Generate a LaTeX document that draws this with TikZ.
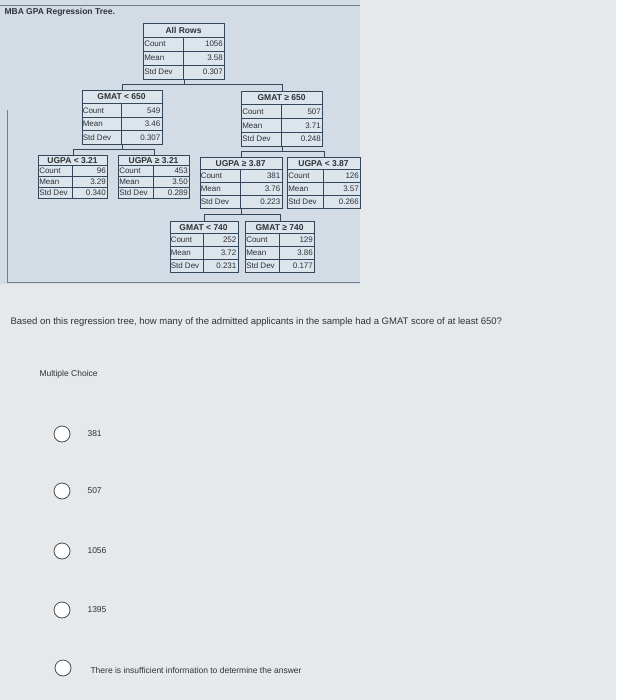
\documentclass[tikz,border=0pt]{standalone}
\usepackage{fontspec}
\setmainfont{Liberation Sans}
\definecolor{bg}{HTML}{E6E9EC}
\definecolor{panel}{HTML}{D3DCE5}
\definecolor{boxf}{HTML}{DCE4EC}
\definecolor{edge}{HTML}{34465A}
\definecolor{txt}{HTML}{2E3338}
\newcommand\tbox[9]{%
 \node[draw=edge,line width=0.9pt,fill=boxf,minimum width=#4pt,minimum height=#5pt,anchor=north,inner sep=0pt] (#1) at (#2,#3) {};
 \begin{scope}[shift={(#1.north west)}]
  \draw[edge,line width=0.7pt] (0,{#5/4})--(#4,{#5/4}) (0,{#5/2})--(#4,{#5/2}) (0,{3*#5/4})--(#4,{3*#5/4})
   ({#4/2},{#5/4})--({#4/2},#5);
  \node[font=\bfseries\fontsize{8.5}{9}\selectfont,inner sep=0pt] at ({#4/2},{#5/8}) {#6};
  \node[anchor=west,lbl] at (1,{3*#5/8}) {Count};
  \node[anchor=west,lbl] at (1,{5*#5/8}) {Mean};
  \node[anchor=west,lbl] at (1,{7*#5/8}) {Std Dev};
  \node[anchor=east,lbl] at ({#4-1},{3*#5/8}) {#7};
  \node[anchor=east,lbl] at ({#4-1},{5*#5/8}) {#8};
  \node[anchor=east,lbl] at ({#4-1},{7*#5/8}) {#9};
 \end{scope}}
\begin{document}
\begin{tikzpicture}[x=1pt,y=-1pt,every node/.style={text=txt},
  lbl/.style={font=\fontsize{8}{9}\selectfont,inner sep=0pt},
  conn/.style={draw=edge,line width=1pt},
  radio/.style={circle,draw=black!70,line width=0.8pt,minimum size=16pt,inner sep=0pt,fill=white}]
\useasboundingbox (0,0) rectangle (616,700);
\fill[bg] (0,0) rectangle (616,700);
\fill[panel] (0,0) rectangle (360,284);
\draw[edge!70,line width=0.8pt] (0,5)--(360,5) (7,110)--(7,282)--(360,282);
\node[anchor=west,font=\bfseries\fontsize{8.5}{9}\selectfont] (title) at (1,12) {MBA GPA Regression Tree.};
\tbox{all}{184}{23}{81}{56}{All Rows}{1056}{3.58}{0.307}
\tbox{g1}{122}{90}{80}{54}{GMAT < 650}{549}{3.46}{0.307}
\tbox{g2}{282}{91}{81}{55}{GMAT ≥ 650}{507}{3.71}{0.248}
\tbox{u1}{73}{155}{69}{43}{UGPA < 3.21}{96}{3.29}{0.340}
\tbox{u2}{154}{155}{71}{43}{UGPA ≥ 3.21}{453}{3.50}{0.289}
\tbox{u3}{241}{157}{82}{51}{UGPA ≥ 3.87}{381}{3.76}{0.223}
\tbox{u4}{324}{157}{73}{51}{UGPA < 3.87}{126}{3.57}{0.266}
\tbox{m1}{204}{221}{68}{51}{GMAT < 740}{252}{3.72}{0.231}
\tbox{m2}{280}{221}{69}{51}{GMAT ≥ 740}{129}{3.86}{0.177}
\draw[conn] (all.south) -- ++(0,5) -| (g1.north);
\draw[conn] (all.south) -- ++(0,5) -| (g2.north);
\draw[conn] (g1.south) -- ++(0,5) -| (u1.north);
\draw[conn] (g1.south) -- ++(0,5) -| (u2.north);
\draw[conn] (g2.south) -- ++(0,5) -| (u3.north);
\draw[conn] (g2.south) -- ++(0,5) -| (u4.north);
\draw[conn] (u3.south) -- ++(0,6) -| (m1.north);
\draw[conn] (u3.south) -- ++(0,6) -| (m2.north);
\node[anchor=west,font=\fontsize{9.5}{11}\selectfont] (q) at (7,322) {Based on this regression tree, how many of the admitted applicants in the sample had a GMAT score of at least 650?};
\node[anchor=west,font=\fontsize{8.5}{9}\selectfont] (mc) at (36,374) {Multiple Choice};
\foreach \y/\t/\n in {434/381/a,491/507/b,551/1056/c,610/1395/d}{
  \node[radio] (r\n) at (62,\y) {};
  \node[anchor=west,font=\fontsize{8.5}{9}\selectfont] (t\n) at (84,\y) {\t};}
\node[radio] (re) at (63,668) {};
\node[anchor=west,font=\fontsize{8.5}{9}\selectfont] (te) at (87,670) {There is insufficient information to determine the answer};
\end{tikzpicture}
\end{document}
